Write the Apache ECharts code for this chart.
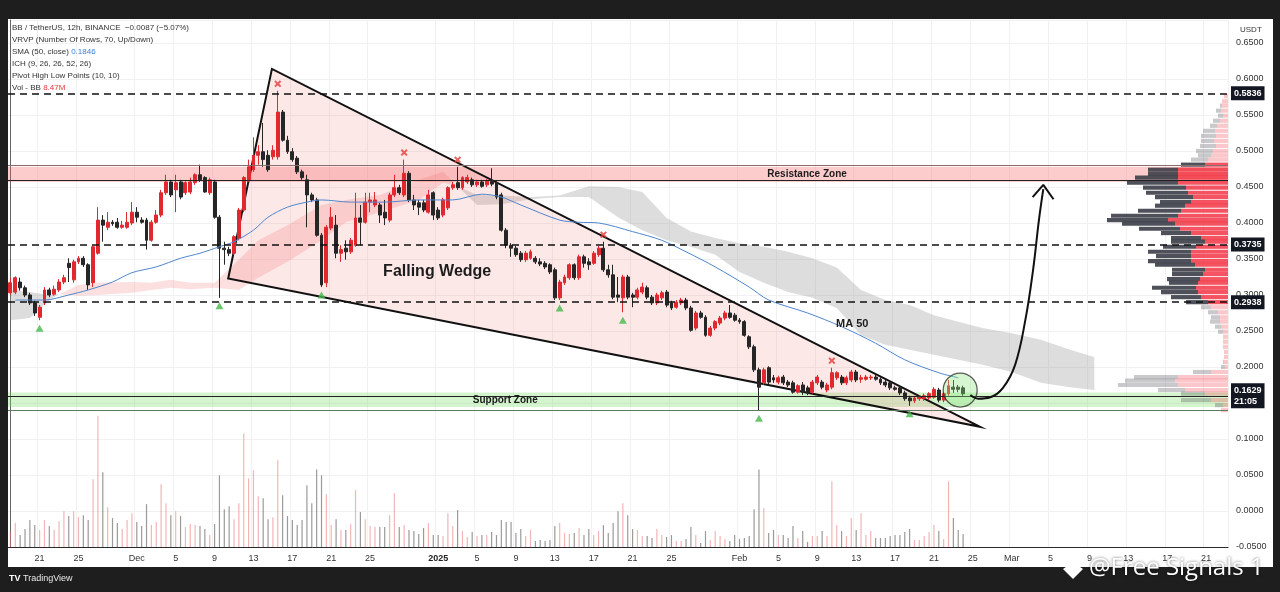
<!DOCTYPE html>
<html>
<head>
<meta charset="utf-8">
<title>BB / TetherUS 12h</title>
<script src="https://cdn.jsdelivr.net/npm/echarts@6/dist/echarts.min.js"></script>
<style>
    html, body { margin: 0; padding: 0; background: #1e1e1e; }
    #chart { width: 1280px; height: 592px; }
</style>
</head>
<body>
<div id="chart"></div>
<script>
// 12h candles, first one opens 2024-11-18 00:00 UTC
var opens = [
    0.303,0.304,0.318,0.310,0.300,0.289,0.269,0.289,0.307,0.301,
    0.307,0.318,0.344,0.321,0.346,0.351,0.342,0.317,0.358,0.404,
    0.394,0.401,0.401,0.394,0.394,0.400,0.415,0.404,0.404,0.376,
    0.401,0.411,0.442,0.457,0.446,0.457,0.442,0.443,0.456,0.467,
    0.463,0.442,0.457,0.408,0.365,0.363,0.358,0.379,0.418,0.460,
    0.474,0.494,0.499,0.494,0.492,0.492,0.554,0.515,0.499,0.490,
    0.471,0.460,0.439,0.432,0.383,0.317,0.393,0.397,0.358,0.365,
    0.360,0.369,0.407,0.401,0.429,0.425,0.425,0.415,0.404,0.439,
    0.449,0.439,0.469,0.432,0.428,0.428,0.415,0.442,0.418,0.411,
    0.421,0.449,0.456,0.449,0.457,0.460,0.453,0.457,0.453,0.458,
    0.456,0.439,0.390,0.369,0.365,0.358,0.349,0.351,0.351,0.346,
    0.344,0.342,0.335,0.296,0.317,0.324,0.342,0.324,0.353,0.346,
    0.344,0.356,0.365,0.335,0.328,0.300,0.296,0.325,0.300,0.297,
    0.304,0.310,0.297,0.289,0.296,0.304,0.289,0.283,0.289,0.293,
    0.282,0.254,0.275,0.269,0.244,0.254,0.261,0.268,0.275,0.272,
    0.265,0.263,0.242,0.228,0.196,0.178,0.199,0.185,0.179,0.186,
    0.179,0.178,0.165,0.175,0.171,0.165,0.178,0.179,0.168,0.172,
    0.185,0.186,0.178,0.182,0.193,0.183,0.183,0.185,0.186,0.183,
    0.179,0.178,0.171,0.171,0.164,0.157,0.153,0.156,0.156,0.157,
    0.158,0.168,0.154,0.163,0.172,0.172,0.171
];
var closes = [
    0.317,0.324,0.310,0.300,0.289,0.275,0.283,0.307,0.300,0.308,
    0.318,0.324,0.338,0.346,0.351,0.342,0.314,0.367,0.404,0.397,
    0.401,0.399,0.394,0.397,0.401,0.415,0.408,0.401,0.376,0.401,
    0.411,0.442,0.457,0.439,0.456,0.436,0.456,0.457,0.467,0.460,
    0.443,0.460,0.408,0.365,0.363,0.358,0.381,0.418,0.463,0.478,
    0.494,0.499,0.488,0.474,0.501,0.554,0.515,0.499,0.488,0.471,
    0.463,0.439,0.432,0.383,0.314,0.394,0.408,0.358,0.363,0.360,
    0.376,0.407,0.401,0.429,0.432,0.432,0.411,0.407,0.439,0.449,
    0.442,0.469,0.432,0.425,0.422,0.418,0.439,0.411,0.407,0.432,
    0.449,0.453,0.449,0.463,0.463,0.453,0.457,0.451,0.458,0.454,
    0.436,0.390,0.369,0.365,0.356,0.349,0.358,0.360,0.346,0.343,
    0.339,0.332,0.296,0.318,0.325,0.342,0.324,0.353,0.344,0.342,
    0.358,0.365,0.335,0.328,0.297,0.297,0.325,0.297,0.297,0.307,
    0.311,0.297,0.289,0.300,0.303,0.286,0.282,0.290,0.293,0.282,
    0.251,0.275,0.269,0.244,0.254,0.263,0.268,0.275,0.269,0.265,
    0.263,0.244,0.228,0.196,0.172,0.196,0.179,0.182,0.185,0.178,
    0.175,0.165,0.174,0.165,0.164,0.179,0.186,0.172,0.175,0.192,
    0.192,0.178,0.185,0.193,0.182,0.185,0.186,0.186,0.183,0.178,
    0.175,0.171,0.169,0.164,0.156,0.153,0.157,0.158,0.160,0.163,
    0.169,0.154,0.163,0.174,0.169,0.169,0.1629
];
var lows = [
    0.300,0.301,0.306,0.297,0.286,0.271,0.265,0.286,0.297,0.299,
    0.304,0.315,0.318,0.317,0.343,0.339,0.307,0.311,0.356,0.374,
    0.390,0.396,0.392,0.392,0.392,0.397,0.401,0.399,0.363,0.374,
    0.399,0.408,0.439,0.436,0.415,0.433,0.439,0.440,0.453,0.457,
    0.442,0.439,0.406,0.296,0.342,0.354,0.356,0.376,0.415,0.457,
    0.471,0.481,0.478,0.471,0.488,0.488,0.513,0.496,0.485,0.468,
    0.460,0.394,0.429,0.381,0.311,0.311,0.390,0.351,0.346,0.349,
    0.357,0.367,0.369,0.399,0.415,0.422,0.400,0.397,0.401,0.436,
    0.439,0.436,0.429,0.418,0.411,0.415,0.413,0.404,0.404,0.408,
    0.418,0.446,0.446,0.446,0.454,0.450,0.450,0.449,0.450,0.451,
    0.433,0.388,0.365,0.353,0.353,0.346,0.346,0.349,0.343,0.340,
    0.336,0.329,0.293,0.293,0.314,0.321,0.321,0.321,0.338,0.335,
    0.342,0.353,0.332,0.324,0.294,0.290,0.276,0.294,0.283,0.294,
    0.301,0.294,0.286,0.286,0.293,0.283,0.279,0.281,0.286,0.279,
    0.249,0.251,0.267,0.242,0.242,0.251,0.258,0.265,0.267,0.263,
    0.260,0.242,0.225,0.193,0.140,0.175,0.176,0.178,0.176,0.175,
    0.172,0.163,0.163,0.161,0.161,0.163,0.175,0.169,0.165,0.169,
    0.182,0.175,0.175,0.179,0.179,0.178,0.181,0.182,0.181,0.175,
    0.172,0.168,0.167,0.161,0.153,0.146,0.150,0.153,0.153,0.154,
    0.156,0.151,0.151,0.160,0.164,0.165,0.160
];
var highs = [
    0.324,0.326,0.324,0.313,0.303,0.292,0.286,0.311,0.310,0.313,
    0.322,0.328,0.351,0.349,0.354,0.354,0.344,0.369,0.422,0.411,
    0.415,0.404,0.407,0.403,0.415,0.429,0.422,0.408,0.407,0.404,
    0.418,0.446,0.467,0.460,0.467,0.460,0.458,0.463,0.469,0.481,
    0.465,0.463,0.460,0.411,0.374,0.367,0.383,0.421,0.465,0.488,
    0.519,0.508,0.539,0.501,0.508,0.5836,0.557,0.521,0.504,0.493,
    0.474,0.467,0.442,0.435,0.386,0.397,0.422,0.411,0.369,0.376,
    0.379,0.442,0.425,0.442,0.442,0.443,0.428,0.432,0.442,0.467,
    0.453,0.488,0.472,0.439,0.432,0.432,0.446,0.444,0.422,0.435,
    0.451,0.457,0.478,0.465,0.467,0.463,0.460,0.460,0.461,0.476,
    0.458,0.442,0.393,0.372,0.368,0.361,0.361,0.363,0.354,0.351,
    0.347,0.344,0.338,0.321,0.328,0.344,0.344,0.356,0.356,0.351,
    0.361,0.368,0.374,0.342,0.342,0.325,0.328,0.328,0.303,0.310,
    0.317,0.313,0.300,0.303,0.306,0.307,0.292,0.293,0.296,0.296,
    0.285,0.278,0.278,0.272,0.257,0.265,0.271,0.278,0.286,0.275,
    0.268,0.265,0.244,0.231,0.199,0.199,0.201,0.189,0.188,0.189,
    0.182,0.181,0.176,0.179,0.174,0.182,0.189,0.182,0.178,0.199,
    0.194,0.189,0.188,0.196,0.196,0.189,0.189,0.189,0.189,0.186,
    0.182,0.181,0.174,0.174,0.167,0.160,0.160,0.161,0.163,0.165,
    0.172,0.171,0.165,0.182,0.182,0.175,0.174
];
// volume, millions
var volumes = [
    10.2,15.6,7.8,11.7,17.6,14.3,11.1,17.6,13.7,11.1,
    16.9,23.4,20.2,23.4,19.5,20.8,17.6,44.2,85.8,48.8,
    26,18.9,15.6,11.7,17.6,22.1,16.3,13.7,28,14.3,
    16.3,41,28.6,20.8,23.4,20.2,13,15,14.3,13.7,
    11.7,7.8,15,46.8,24.7,26.7,18.2,28.6,74.1,44.9,
    50.1,33.2,31.9,18.2,19.5,56.6,33.8,20.2,17.6,14.3,
    17.6,40.3,28.6,50.7,46.8,34.5,14.3,18.2,11.1,11.1,
    15,37.1,22.8,18.2,13.7,13,13,13,20.8,35.1,
    13,14.3,11.1,10.4,8.5,12.4,15.6,7.8,7.8,7.2,
    22.1,13.7,24.1,10.4,6.5,9.8,7.2,7.8,7.8,9.8,
    7.8,17.6,16.3,16.3,9.1,11.7,7.2,11.1,3.9,4.6,
    3.9,4.6,13.7,15.6,9.1,8.5,9.1,12.4,7.8,11.7,
    7.8,10.4,14.3,9.1,15.6,23.4,28.6,20.8,11.7,11.1,
    7.2,7.2,5.9,11.7,7.8,6.5,7.8,3.9,3.9,5.2,
    13,7.8,2.6,10.4,4.6,10.4,7.2,5.2,3.9,7.8,
    5.2,5.9,7.2,24.7,50.7,25.4,9.1,11.1,7.8,7.8,
    5.9,13.7,5.9,10.4,3.3,7.2,7.2,10.4,7.2,42.9,
    14.3,10.4,7.2,18.9,11.1,22.1,7.8,10.4,5.9,5.9,
    5.9,7.2,7.8,7.8,9.8,11.7,4.6,4.6,7.2,9.8,
    14.3,10.4,5.2,42.9,18.9,11.1,8.47
];

// SMA 50 (candle index, price)
var maIdx = [1,7,12,16,21,25,30,35,39,43,46,50,53,57,61,64,70,77,84,91,
    97,101,105,113,117,121,128,134,139,145,152,156,164,171,178,184,191,195];
var maVal = [0.293,0.293,0.300,0.307,0.318,0.331,0.339,0.351,0.358,0.367,
    0.374,0.390,0.408,0.422,0.429,0.432,0.429,0.429,0.432,0.432,
    0.440,0.436,0.425,0.404,0.401,0.400,0.388,0.376,0.360,0.339,
    0.311,0.293,0.275,0.256,0.233,0.210,0.192,0.185];

// ichimoku cloud edges (shifted forward)
var cloudIdx = [0,4,8,10,14,18,25,29,33,37,42,47,51,57,64,69,76,84,89,92,
    96,101,107,113,119,125,130,135,140,145,150,155,160,165,170,175,180,185,190,195,
    200,206,212,218,223];
var spanA = [0.265,0.268,0.293,0.301,0.314,0.317,0.318,0.317,0.321,0.317,
    0.317,0.349,0.376,0.397,0.425,0.432,0.439,0.460,0.471,0.451,
    0.425,0.426,0.433,0.436,0.436,0.408,0.390,0.376,0.367,0.356,
    0.332,0.317,0.304,0.296,0.282,0.244,0.231,0.224,0.217,0.210,
    0.203,0.193,0.178,0.172,0.168];
var spanB = [0.307,0.304,0.300,0.301,0.299,0.300,0.303,0.307,0.310,0.308,
    0.310,0.307,0.324,0.346,0.376,0.401,0.415,0.432,0.456,0.451,
    0.439,0.438,0.436,0.438,0.451,0.450,0.443,0.407,0.388,0.379,
    0.372,0.367,0.360,0.351,0.338,0.307,0.293,0.286,0.272,0.263,
    0.254,0.247,0.238,0.224,0.214];

// visible range volume profile rows
var profPrice = [0.576,0.569,0.563,0.556,0.549,0.542,0.535,0.528,0.521,0.514,
    0.507,0.500,0.494,0.488,0.481,0.474,0.468,0.463,0.456,0.449,
    0.442,0.436,0.429,0.424,0.417,0.410,0.404,0.399,0.392,0.386,
    0.379,0.374,0.367,0.360,0.354,0.347,0.342,0.335,0.329,0.322,
    0.317,0.310,0.304,0.297,0.290,0.283,0.276,0.269,0.263,0.256,
    0.249,0.242,0.235,0.228,0.221,0.214,0.207,0.200,0.193,0.186,
    0.181,0.175,0.168,0.163,0.154,0.147,0.140];
var profUp = [4,6,6,7,5,8,11,13,12,14, 12,15,17,20,23,50,50,50,50,42,
    40,35,37,43,47,50,60,53,48,37, 27,23,32,37,37,37,33,23,25,28,
    30,32,30,27,20,17,10,8,8,7, 5,5,5,5,4,4,4,3,17,50, 53,50,43,23,17,5,7];
var profDown = [0,0,2,5,5,7,7,12,15,13, 16,17,13,17,24,30,30,43,51,43,
    42,38,31,30,43,67,61,53,41,30, 30,34,33,43,35,43,40,33,31,33,
    29,44,37,30,22,10,10,9,10,6, 5,0,0,0,0,0,1,4,18,44, 50,60,27,24,30,8,0];

var pivotLowIdx = [6, 43, 64, 113, 126, 154, 185];
var pivotHighIdx = [55, 81, 92, 122, 169];

var levels = [0.5836, 0.3735, 0.2938];
var lastPrice = 0.1629;
var resistZone = [0.457, 0.478];
var supportZone = [0.1444, 0.1645];

// wedge corners: apex, lower left, tip (candle index, price)
var wedge = [[53.8, 0.614], [44.8, 0.323], [199.5, 0.117]];
// hand drawn target arrow
var arrowPath = [[197.5, 0.161], [199.1, 0.156], [201.6, 0.158], [204.2, 0.171], [206.7, 0.203],
    [208.8, 0.265], [210.4, 0.335], [211.6, 0.404], [212.5, 0.447]];
var arrowHead = [[210.3, 0.436], [212.5, 0.453], [214.6, 0.433]];
var focusPoint = [195.4, 0.168];

var SLOTS = 251;
var slotTimes = [];
for (var k = 0; k < SLOTS; k++) {
    slotTimes.push(Date.UTC(2024, 10, 18) + k * 43200000);
}
var monthShort = ['Jan','Feb','Mar','Apr','May','Jun','Jul','Aug','Sep','Oct','Nov','Dec'];
var labelDays = [1, 5, 9, 13, 17, 21, 25];
function isLabelSlot(idx) {
    var d = new Date(slotTimes[idx]);
    return d.getUTCHours() === 0 && labelDays.indexOf(d.getUTCDate()) >= 0;
}
function slotLabel(idx) {
    var d = new Date(slotTimes[idx]);
    if (d.getUTCDate() === 1) {
        return d.getUTCMonth() === 0 ? '{y|' + d.getUTCFullYear() + '}' : monthShort[d.getUTCMonth()];
    }
    return String(d.getUTCDate());
}

(function () {
    var FONT = '"Liberation Sans", Arial, sans-serif';
    var UP = '#e0282e', DOWN = '#262626';
    var chart = echarts.init(document.getElementById('chart'));

    var candles = opens.map(function (o, i) { return [o, closes[i], lows[i], highs[i]]; });
    var volData = volumes.map(function (v, i) {
        return {value: v, itemStyle: {color: closes[i] >= opens[i] ? 'rgba(232,110,110,0.5)' : 'rgba(100,100,100,0.65)'}};
    });

    // group cloud segments into runs of same colour
    var cloudRuns = [];
    var cur = null;
    for (var s = 0; s < cloudIdx.length - 1; s++) {
        var bull = (spanA[s] + spanA[s + 1]) > (spanB[s] + spanB[s + 1]);
        if (!cur || cur.bull !== bull) {
            cur = {bull: bull, from: s, to: s + 1};
            cloudRuns.push(cur);
        } else {
            cur.to = s + 1;
        }
    }

    var notes = [
        {i: 87.8, p: 0.333, text: 'Falling Wedge', font: 'bold 16px ' + FONT},
        {i: 173.2, p: 0.260, text: 'MA 50', font: 'bold 11px ' + FONT},
        {i: 163.9, p: 0.4675, text: 'Resistance Zone', font: 'bold 10px ' + FONT},
        {i: 101.8, p: 0.1545, text: 'Support Zone', font: 'bold 10px ' + FONT}
    ];

    var tagLabel = {
        show: true, position: 'end', distance: 3,
        backgroundColor: '#131722', color: '#fff',
        fontSize: 9, fontWeight: 'bold', fontFamily: FONT,
        padding: [2, 3, 1, 3], lineHeight: 11
    };
    var lineData = levels.map(function (lv) {
        return {
            yAxis: lv,
            lineStyle: {color: '#111', type: [7, 5], width: 1.6},
            label: Object.assign({}, tagLabel, {formatter: lv.toFixed(4)})
        };
    });
    lineData.push({
        yAxis: lastPrice, lineStyle: {color: 'rgba(0,0,0,0)', width: 1},
        label: Object.assign({}, tagLabel, {formatter: lastPrice.toFixed(4) + '\n21:05'})
    });
    lineData.push({yAxis: resistZone[1], lineStyle: {color: '#8a6d6d', type: 'solid', width: 1}, label: {show: false}});
    lineData.push({yAxis: resistZone[0], lineStyle: {color: '#222', type: 'solid', width: 1.2}, label: {show: false}});
    lineData.push({yAxis: supportZone[1], lineStyle: {color: '#222', type: 'solid', width: 1.2}, label: {show: false}});
    lineData.push({yAxis: supportZone[0], lineStyle: {color: '#5f7a5c', type: 'solid', width: 1}, label: {show: false}});

    var option = {
        backgroundColor: '#ffffff',
        animation: false,
        grid: [
            {left: 8, right: 52, top: 20, bottom: 45, outerBoundsMode: 'none'},
            {left: 8, right: 52, top: 348, bottom: 45, outerBoundsMode: 'none'}
        ],
        xAxis: [
            {
                type: 'category', gridIndex: 0, data: slotTimes.map(String), boundaryGap: true,
                axisLine: {show: true, onZero: false, lineStyle: {color: '#2a2a2a', width: 1}},
                axisTick: {show: false},
                axisLabel: {
                    interval: function (idx) { return isLabelSlot(idx); },
                    formatter: function (v, idx) { return slotLabel(idx); },
                    color: '#333', fontSize: 9, fontFamily: FONT, margin: 7,
                    rich: {y: {fontWeight: 'bold', fontSize: 9, color: '#222', fontFamily: FONT}}
                },
                splitLine: {
                    show: true,
                    interval: function (idx) { return isLabelSlot(idx); },
                    lineStyle: {color: '#f1f1f3', width: 1}
                }
            },
            {type: 'value', gridIndex: 0, min: -0.5, max: SLOTS - 0.5, show: false},
            {type: 'category', gridIndex: 1, data: slotTimes.map(String), boundaryGap: true, show: false}
        ],
        yAxis: [
            {
                type: 'value', gridIndex: 0, position: 'right',
                min: -0.05, max: 0.6819, interval: 0.05,
                axisLine: {show: true, lineStyle: {color: '#666', width: 1}},
                axisTick: {show: false},
                axisLabel: {
                    color: '#333', fontSize: 9, fontFamily: FONT, margin: 8,
                    showMaxLabel: false,
                    formatter: function (v) { return v.toFixed(4); }
                },
                splitLine: {show: true, lineStyle: {color: '#f1f1f3', width: 1}}
            },
            {type: 'value', gridIndex: 1, min: 0, max: 130, show: false, splitLine: {show: false}}
        ],
        series: [
            {
                name: 'cloud', type: 'custom', xAxisIndex: 1, yAxisIndex: 0, z: 1, silent: true,
                data: cloudRuns.map(function (r, n) { return [n]; }),
                renderItem: function (params, api) {
                    var r = cloudRuns[params.dataIndex];
                    var pts = [];
                    for (var a = r.from; a <= r.to; a++) pts.push(api.coord([cloudIdx[a], spanA[a]]));
                    for (var b = r.to; b >= r.from; b--) pts.push(api.coord([cloudIdx[b], spanB[b]]));
                    return {
                        type: 'polygon', shape: {points: pts},
                        style: {fill: r.bull ? 'rgba(240,110,110,0.22)' : 'rgba(150,150,150,0.32)'}
                    };
                }
            },
            {
                name: 'wedge', type: 'custom', xAxisIndex: 1, yAxisIndex: 0, z: 1, silent: true,
                data: [[0]],
                renderItem: function (params, api) {
                    var pts = wedge.map(function (w) { return api.coord(w); });
                    return {
                        type: 'polygon', shape: {points: pts},
                        style: {fill: 'rgba(244,100,100,0.15)', stroke: '#111', lineWidth: 2}
                    };
                }
            },
            {
                name: 'BB/USDT', type: 'candlestick', xAxisIndex: 0, yAxisIndex: 0, z: 2,
                data: candles, barWidth: '70%',
                itemStyle: {color: UP, color0: DOWN, borderColor: UP, borderColor0: DOWN, borderWidth: 1},
                markArea: {
                    silent: true,
                    data: [
                        [{yAxis: resistZone[0], itemStyle: {color: 'rgba(245,95,95,0.32)'}}, {yAxis: resistZone[1]}],
                        [{yAxis: supportZone[0], itemStyle: {color: 'rgba(120,220,100,0.32)'}}, {yAxis: supportZone[1]}]
                    ]
                },
                markLine: {silent: true, symbol: ['none', 'none'], data: lineData}
            },
            {
                name: 'VRVP', type: 'custom', xAxisIndex: 1, yAxisIndex: 0, z: 2, silent: true,
                data: profPrice.map(function (p, n) { return [n]; }),
                renderItem: function (params, api) {
                    var n = params.dataIndex;
                    var cs = params.coordSys;
                    var right = cs.x + cs.width;
                    var maxTotal = 0;
                    for (var q = 0; q < profPrice.length; q++) maxTotal = Math.max(maxTotal, profUp[q] + profDown[q]);
                    var scale = 121 / maxTotal;
                    var top = api.coord([0, profPrice[n] + 0.0029])[1];
                    var bot = api.coord([0, profPrice[n] - 0.0029])[1];
                    var inVA = profPrice[n] >= 0.29 && profPrice[n] <= 0.484;
                    var upW = profUp[n] * scale, dnW = profDown[n] * scale;
                    return {
                        type: 'group',
                        children: [
                            {type: 'rect', shape: {x: right - upW, y: top, width: upW, height: bot - top},
                                style: {fill: inVA ? 'rgba(242,54,69,0.85)' : 'rgba(242,54,69,0.28)'}},
                            {type: 'rect', shape: {x: right - upW - dnW, y: top, width: dnW, height: bot - top},
                                style: {fill: inVA ? 'rgba(60,62,72,0.9)' : 'rgba(60,62,72,0.28)'}}
                        ]
                    };
                }
            },
            {
                name: 'SMA 50', type: 'line', xAxisIndex: 1, yAxisIndex: 0, z: 3,
                data: maIdx.map(function (x, n) { return [x, maVal[n]]; }),
                smooth: 0.3, showSymbol: false, symbol: 'none',
                lineStyle: {color: '#4f86cf', width: 1}
            },
            {
                name: 'Pivot Low', type: 'scatter', xAxisIndex: 0, yAxisIndex: 0, z: 4,
                data: pivotLowIdx.map(function (i) { return [i, lows[i]]; }),
                symbol: 'triangle', symbolSize: [8, 7], symbolOffset: [0, 8],
                itemStyle: {color: '#43b94a'}
            },
            {
                name: 'Pivot High', type: 'scatter', xAxisIndex: 0, yAxisIndex: 0, z: 4,
                data: pivotHighIdx.map(function (i) { return [i, highs[i]]; }),
                symbol: 'path://M2,0 L5,3 L8,0 L10,2 L7,5 L10,8 L8,10 L5,7 L2,10 L0,8 L3,5 L0,2 Z',
                symbolSize: 7, symbolOffset: [0, -7],
                itemStyle: {color: '#e53935'}
            },
            {
                name: 'focus', type: 'scatter', xAxisIndex: 1, yAxisIndex: 0, z: 5,
                data: [focusPoint], symbol: 'circle', symbolSize: 34,
                itemStyle: {color: 'rgba(140,230,130,0.45)', borderColor: '#333', borderWidth: 1.3}
            },
            {
                name: 'arrow', type: 'line', xAxisIndex: 1, yAxisIndex: 0, z: 6,
                data: arrowPath, smooth: 0.4, symbol: 'none',
                lineStyle: {color: '#111', width: 2}
            },
            {
                name: 'arrowHead', type: 'line', xAxisIndex: 1, yAxisIndex: 0, z: 6,
                data: arrowHead, symbol: 'none',
                lineStyle: {color: '#111', width: 2}
            },
            {
                name: 'notes', type: 'custom', xAxisIndex: 1, yAxisIndex: 0, z: 7, silent: true,
                data: [[0]],
                renderItem: function (params, api) {
                    return {
                        type: 'group',
                        children: notes.map(function (n) {
                            var pt = api.coord([n.i, n.p]);
                            return {
                                type: 'text', x: pt[0], y: pt[1],
                                style: {text: n.text, font: n.font, fill: '#1c1c1c', align: 'center', verticalAlign: 'middle'}
                            };
                        })
                    };
                }
            },
            {
                name: 'Vol', type: 'bar', xAxisIndex: 2, yAxisIndex: 1, z: 1,
                data: volData, barWidth: 1.2
            }
        ],
        graphic: [
            {type: 'rect', z: 100, silent: true, shape: {x: 0, y: 0, width: 1280, height: 19}, style: {fill: '#1e1e1e'}},
            {type: 'rect', z: 100, silent: true, shape: {x: 0, y: 0, width: 8, height: 592}, style: {fill: '#1e1e1e'}},
            {type: 'rect', z: 100, silent: true, shape: {x: 1273, y: 0, width: 7, height: 592}, style: {fill: '#1e1e1e'}},
            {type: 'rect', z: 100, silent: true, shape: {x: 0, y: 567, width: 1280, height: 25}, style: {fill: '#1e1e1e'}},
            {type: 'text', z: 100, x: 12, y: 28, style: {text: 'BB / TetherUS, 12h, BINANCE  \u22120.0087 (\u22125.07%)', font: '8px ' + FONT, fill: '#333', verticalAlign: 'middle'}},
            {type: 'text', z: 100, x: 12, y: 40, style: {text: 'VRVP (Number Of Rows, 70, Up/Down)', font: '8px ' + FONT, fill: '#333', verticalAlign: 'middle'}},
            {type: 'text', z: 100, x: 12, y: 52, style: {text: 'SMA (50, close) {b|0.1846}', font: '8px ' + FONT, fill: '#333', verticalAlign: 'middle', rich: {b: {fill: '#3d7fd6', font: '8px ' + FONT}}}},
            {type: 'text', z: 100, x: 12, y: 64, style: {text: 'ICH (9, 26, 26, 52, 26)', font: '8px ' + FONT, fill: '#333', verticalAlign: 'middle'}},
            {type: 'text', z: 100, x: 12, y: 76, style: {text: 'Pivot High Low Points (10, 10)', font: '8px ' + FONT, fill: '#333', verticalAlign: 'middle'}},
            {type: 'text', z: 100, x: 12, y: 88, style: {text: 'Vol - BB {r|8.47M}', font: '8px ' + FONT, fill: '#333', verticalAlign: 'middle', rich: {r: {fill: '#e53935', font: '8px ' + FONT}}}},
            {type: 'text', z: 100, x: 1240, y: 30, style: {text: 'USDT', font: '8px ' + FONT, fill: '#333', verticalAlign: 'middle'}},
            {type: 'text', z: 100, x: 9, y: 579, style: {text: 'TV', font: 'bold 9px ' + FONT, fill: '#fff', verticalAlign: 'middle'}},
            {type: 'text', z: 100, x: 23, y: 579, style: {text: 'TradingView', font: '9px ' + FONT, fill: '#e8e8e8', verticalAlign: 'middle'}},
            {type: 'polyline', z: 101, silent: true, shape: {points: [[1063, 563], [1073, 556], [1083, 563]]}, style: {stroke: '#fff', lineWidth: 2, fill: null}},
            {type: 'polygon', z: 101, silent: true, shape: {points: [[1063, 569], [1073, 562], [1083, 569], [1073, 579]]}, style: {fill: '#fff'}},
            {type: 'text', z: 101, x: 1089, y: 568, style: {text: '@Free Signals 1', font: '24px "Open Sans", sans-serif', fill: '#ffffff', verticalAlign: 'middle', textShadowColor: 'rgba(0,0,0,0.6)', textShadowBlur: 3}}
        ]
    };
    chart.setOption(option);

    window.addEventListener('resize', function () {
        chart.resize();
    });
}());
</script>
</body>
</html>
